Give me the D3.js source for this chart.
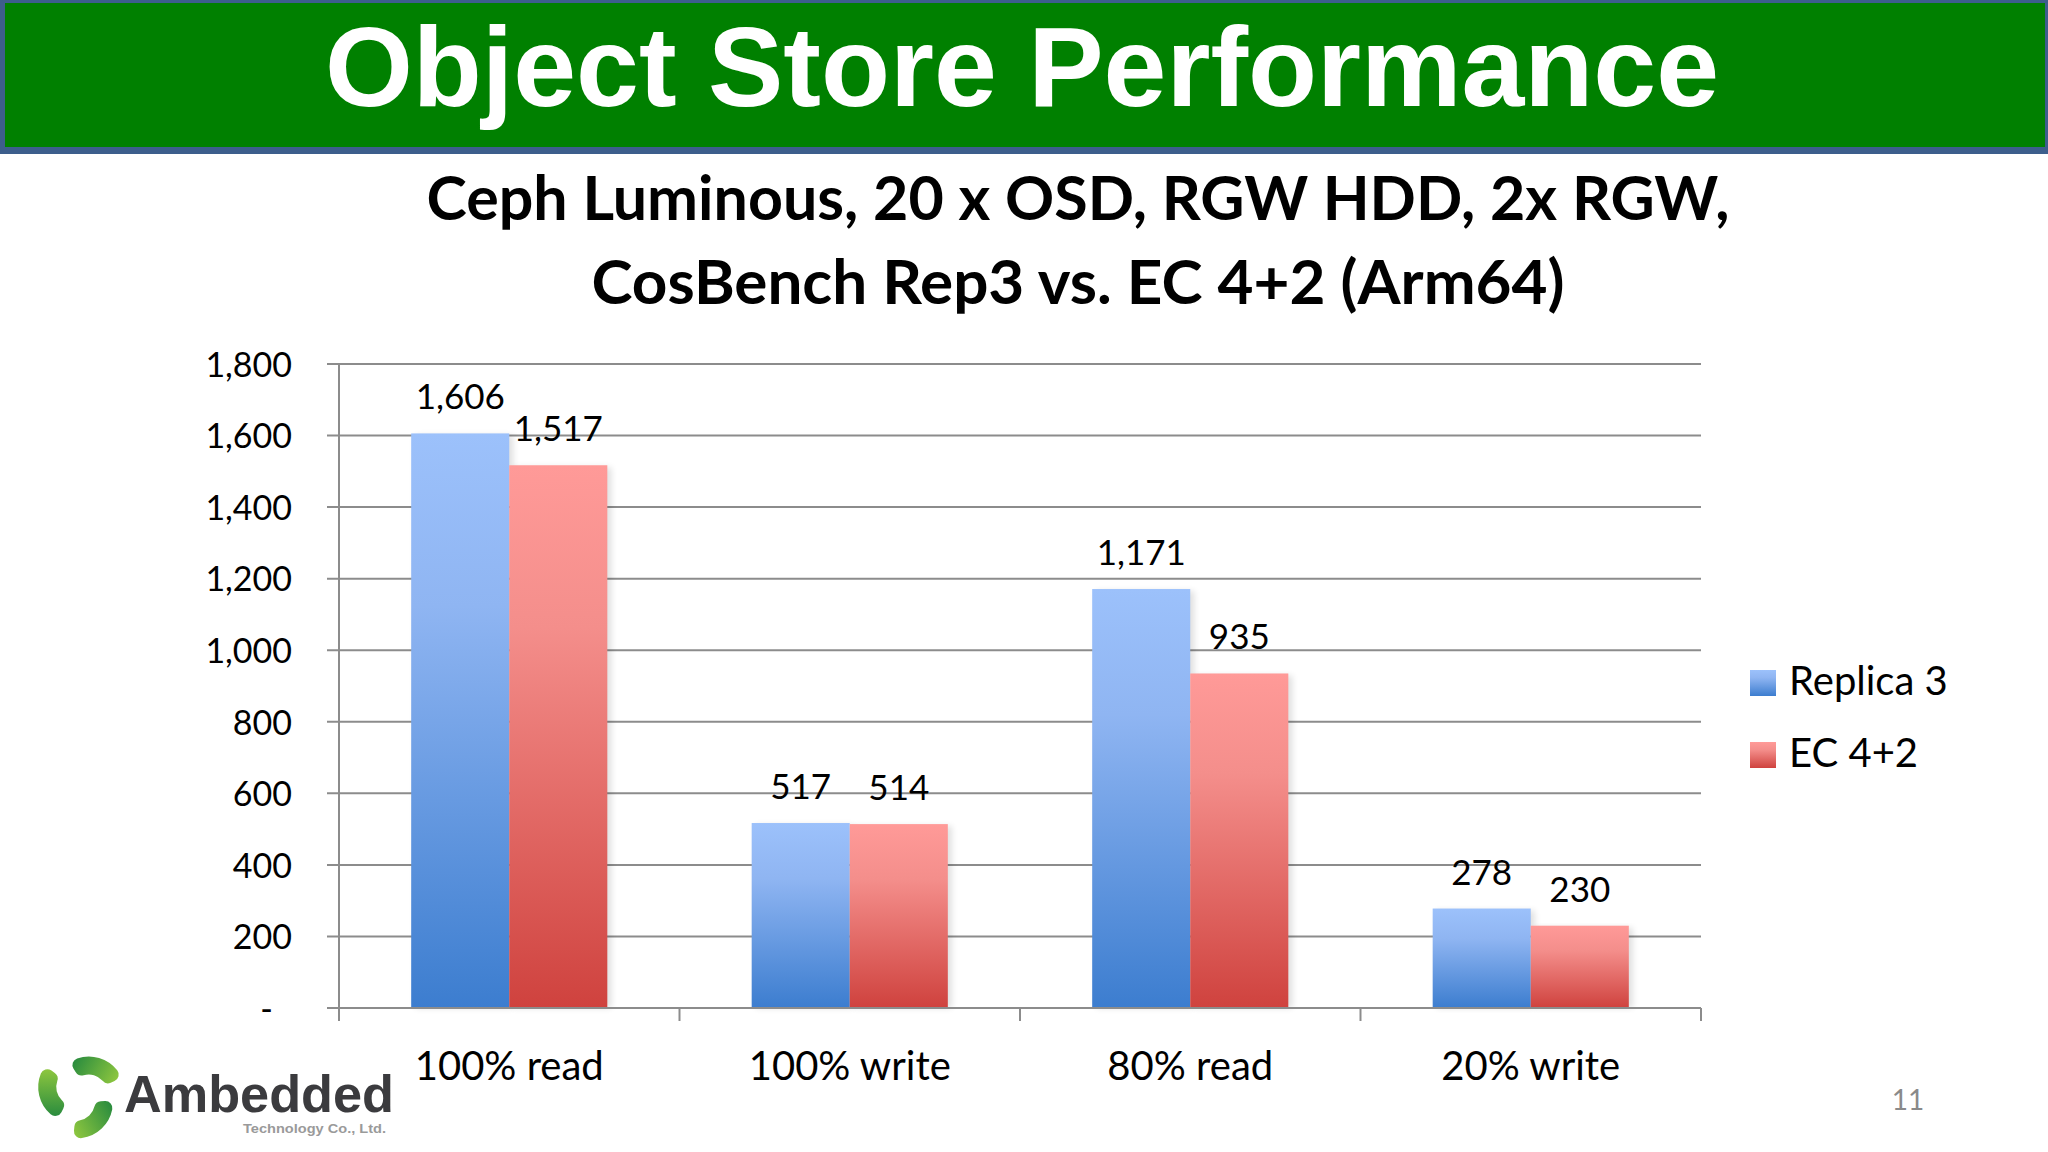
<!DOCTYPE html>
<html>
<head>
<meta charset="utf-8">
<script src="https://cdn.jsdelivr.net/npm/d3@7"></script>
<style>
  html, body { margin: 0; padding: 0; background: #ffffff; }
  svg { display: block; }
</style>
</head>
<body>
<svg id="chart" width="2048" height="1152"></svg>
<script>
// ---------------- data ----------------
const categories = ["100% read", "100% write", "80% read", "20% write"];
const seriesNames = ["Replica 3", "EC 4+2"];
const replica3 = [1606, 517, 1171, 278];
const ec42 = [1517, 514, 935, 230];
const yTicks = [0, 200, 400, 600, 800, 1000, 1200, 1400, 1600, 1800];
const titleText = "Object Store Performance";
const subtitleLines = ["Ceph Luminous, 20 x OSD, RGW HDD, 2x RGW,", "CosBench Rep3 vs. EC 4+2 (Arm64)"];
const pageNumber = "11";

// ---------------- setup ----------------
const svg = d3.select("#chart");
const W = 2048, H = 1152;
const plot = { left: 339, right: 1701, top: 364, bottom: 1008 };
const labelFont = "Lato, 'Open Sans', sans-serif";

const defs = svg.append("defs");
function vgrad(id, stops) {
  const g = defs.append("linearGradient").attr("id", id)
    .attr("x1", 0).attr("y1", 0).attr("x2", 0).attr("y2", 1);
  stops.forEach(s => g.append("stop").attr("offset", s[0]).attr("stop-color", s[1]));
}
vgrad("gBlue", [[0, "#9cc1fb"], [0.3, "#8fb5f2"], [1, "#3c7dcf"]]);
vgrad("gRed", [[0, "#ff9a98"], [0.3, "#f48e8b"], [1, "#cf423e"]]);
const fills = { "Replica 3": "url(#gBlue)", "EC 4+2": "url(#gRed)" };
const blur = defs.append("filter").attr("id", "shadow").attr("x", "-20%").attr("y", "-5%").attr("width", "140%").attr("height", "110%");
blur.append("feGaussianBlur").attr("stdDeviation", 3);

svg.append("rect").attr("width", W).attr("height", H).attr("fill", "#ffffff");

// ---------------- title bar ----------------
svg.append("rect").attr("x", 0).attr("y", 0).attr("width", W).attr("height", 154).attr("fill", "#3d5e8c");
svg.append("rect").attr("x", 5).attr("y", 3).attr("width", W - 8).attr("height", 144).attr("fill", "#008000");
svg.append("text").attr("x", 1022).attr("y", 106)
  .attr("text-anchor", "middle")
  .attr("font-family", "'Liberation Sans', Arial, sans-serif")
  .attr("font-weight", "bold").attr("font-size", 113)
  .attr("fill", "#ffffff").text(titleText);

// ---------------- subtitle ----------------
const subW = [1303, 973];
const subY = [220, 304];
subtitleLines.forEach((t, i) => {
  svg.append("text").attr("x", 1078).attr("y", subY[i])
    .attr("text-anchor", "middle")
    .attr("font-family", labelFont).attr("font-weight", "bold").attr("font-size", 62)
    .attr("textLength", subW[i]).attr("lengthAdjust", "spacingAndGlyphs")
    .attr("fill", "#000000").text(t);
});

// ---------------- scales ----------------
const y = d3.scaleLinear().domain([0, 1800]).range([plot.bottom, plot.top]);
const x = d3.scaleBand().domain(categories).range([plot.left, plot.right])
  .paddingInner(0.424).paddingOuter(0.212);
const xs = d3.scaleBand().domain(seriesNames).range([0, x.bandwidth()]);

const gridColor = "#8c8c8c";

// gridlines
svg.append("g").selectAll("line").data(yTicks.filter(d => d > 0)).join("line")
  .attr("x1", plot.left - 12).attr("x2", plot.right)
  .attr("y1", d => y(d)).attr("y2", d => y(d))
  .attr("stroke", gridColor).attr("stroke-width", 2);

// y axis labels
const yAxis = d3.axisLeft(y).tickValues(yTicks).tickSize(0).tickPadding(0)
  .tickFormat(d => d === 0 ? "-" : d3.format(",")(d));
const gy = svg.append("g").attr("transform", `translate(292,0)`).call(yAxis);
gy.select(".domain").remove();
gy.selectAll("text").attr("font-family", labelFont).attr("font-size", 34).attr("fill", "#000")
  .attr("dy", "0.36em")
  .attr("x", d => d === 0 ? -19 : 0);

// bars
const rows = categories.map((c, i) => ({ cat: c, vals: [
  { s: seriesNames[0], v: replica3[i] },
  { s: seriesNames[1], v: ec42[i] }
]}));

const groups = svg.append("g").selectAll("g").data(rows).join("g")
  .attr("transform", d => `translate(${x(d.cat)},0)`);

// shadows
groups.selectAll("rect.sh").data(d => d.vals).join("rect").attr("class", "sh")
  .attr("x", d => xs(d.s) + 4).attr("y", d => y(d.v) + 2)
  .attr("width", xs.bandwidth()).attr("height", d => plot.bottom - y(d.v) - 2)
  .attr("fill", "#000").attr("opacity", 0.12).attr("filter", "url(#shadow)");

groups.selectAll("rect.bar").data(d => d.vals).join("rect").attr("class", "bar")
  .attr("x", d => xs(d.s)).attr("y", d => y(d.v))
  .attr("width", xs.bandwidth()).attr("height", d => plot.bottom - y(d.v))
  .attr("fill", d => fills[d.s]);

// value labels
groups.selectAll("text.val").data(d => d.vals).join("text").attr("class", "val")
  .attr("x", d => xs(d.s) + xs.bandwidth() / 2).attr("y", d => y(d.v) - 24)
  .attr("text-anchor", "middle")
  .attr("font-family", labelFont).attr("font-size", 35).attr("fill", "#000")
  .text(d => d3.format(",")(d.v));

// axes lines
svg.append("line").attr("x1", plot.left).attr("x2", plot.left)
  .attr("y1", plot.top).attr("y2", plot.bottom + 13)
  .attr("stroke", gridColor).attr("stroke-width", 2);
svg.append("line").attr("x1", plot.left - 12).attr("x2", plot.right)
  .attr("y1", plot.bottom).attr("y2", plot.bottom)
  .attr("stroke", gridColor).attr("stroke-width", 2);
const bounds = d3.range(categories.length + 1).map(i => plot.left + i * x.step());
svg.append("g").selectAll("line").data(bounds).join("line")
  .attr("x1", d => d).attr("x2", d => d)
  .attr("y1", plot.bottom).attr("y2", plot.bottom + 13)
  .attr("stroke", gridColor).attr("stroke-width", 2);

// category labels
const xAxis = d3.axisBottom(x).tickSize(0).tickPadding(0);
const gx = svg.append("g").attr("transform", `translate(0,1080)`).call(xAxis);
gx.select(".domain").remove();
gx.selectAll("text").attr("font-family", labelFont).attr("font-size", 40).attr("fill", "#000")
  .attr("dy", 0).attr("y", 0);

// legend
const legend = svg.append("g").selectAll("g").data(seriesNames).join("g")
  .attr("transform", (d, i) => `translate(1750,${670 + i * 72})`);
legend.append("rect").attr("width", 26).attr("height", 26).attr("fill", d => fills[d]);
legend.append("text").attr("x", 39).attr("y", 25)
  .attr("font-family", labelFont).attr("font-size", 40).attr("fill", "#000").text(d => d);

// page number
svg.append("text").attr("x", 1908).attr("y", 1110).attr("text-anchor", "middle")
  .attr("font-family", labelFont).attr("font-size", 28).attr("fill", "#8a8a8a").text(pageNumber);

// ---------------- logo ----------------
vgrad("gLeaf", [[0, "#8dc63f"], [1, "#2a8c3e"]]);
const logo = svg.append("g").attr("transform", "translate(80,1094)");
const blade = d3.arc().innerRadius(18).outerRadius(36).cornerRadius(7);
[0, 120, 240].forEach(a => {
  const rad = (a - 40) * Math.PI / 180;
  logo.append("path")
    .attr("transform", `translate(${9 * Math.sin(rad)},${-9 * Math.cos(rad)}) rotate(${a})`)
    .attr("d", blade({ startAngle: -Math.PI * 0.85, endAngle: -Math.PI * 0.3 }))
    .attr("fill", "url(#gLeaf)");
});
svg.append("text").attr("x", 124).attr("y", 1112)
  .attr("font-family", "'Liberation Sans', Arial, sans-serif").attr("font-weight", "bold")
  .attr("font-size", 52).attr("textLength", 270).attr("lengthAdjust", "spacingAndGlyphs")
  .attr("fill", "#3b3b3e").text("Ambedded");
svg.append("text").attr("x", 243).attr("y", 1133)
  .attr("font-family", "'Liberation Sans', Arial, sans-serif").attr("font-weight", "bold")
  .attr("font-size", 12).attr("textLength", 143).attr("lengthAdjust", "spacingAndGlyphs")
  .attr("fill", "#9a9a9a").text("Technology Co., Ltd.");
</script>
</body>
</html>
